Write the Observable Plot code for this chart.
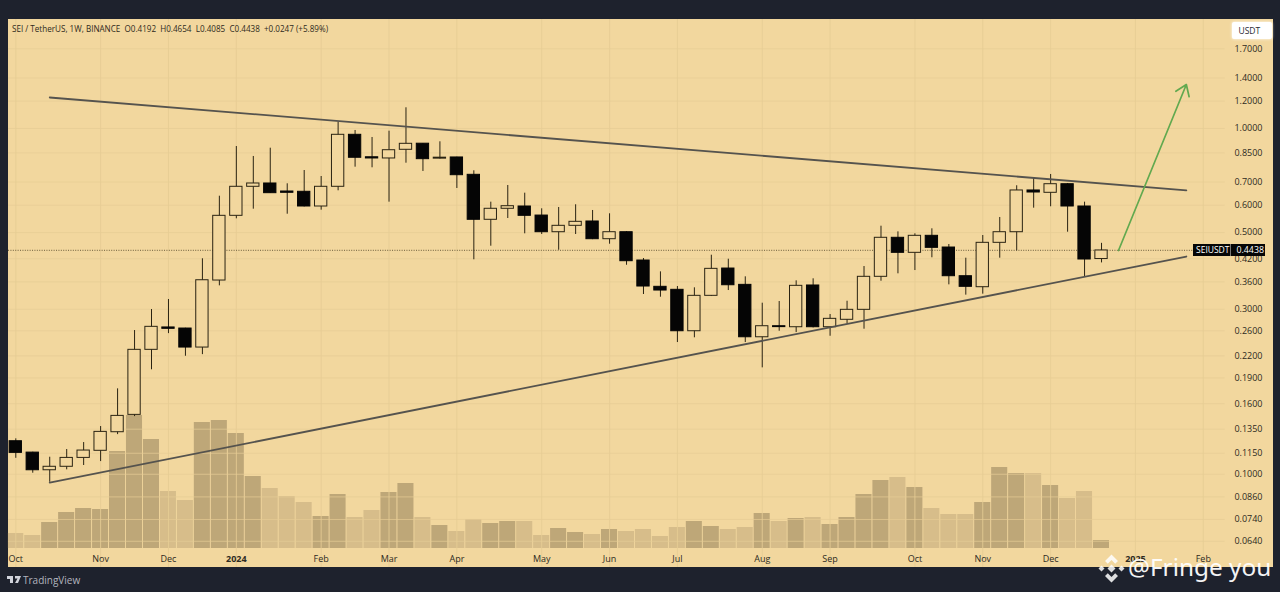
<!DOCTYPE html>
<html>
<head>
<meta charset="utf-8">
<script src="https://cdn.jsdelivr.net/npm/d3@7"></script>
<script src="https://cdn.jsdelivr.net/npm/@observablehq/plot@0.6"></script>
<style>
html,body{margin:0;padding:0;background:#1e222d;width:1280px;height:592px;overflow:hidden}
#panel{position:absolute;left:7.5px;top:19px;width:1265px;height:548px;background:#f2d79e;}
#charts svg{position:absolute;left:0;top:0;background:transparent!important}
.t{position:absolute;white-space:pre;font-family:"Open Sans",sans-serif;line-height:1}
</style>
</head>
<body>
<div id="panel"></div>
<div id="charts"></div>
<div class="t" style="left:1232px;top:22px;width:40px;height:17px;background:#fff;border-radius:2px;box-shadow:0 0 3px #fff"></div>
<div class="t" style="left:1238.5px;top:27px;font-size:8.5px;color:#2a2a33">USDT</div>
<div class="t" style="left:12px;top:25px;font-size:8.1px;color:#2e2a20">SEI / TetherUS, 1W, BINANCE  O0.4192  H0.4654  L0.4085  C0.4438  +0.0247 (+5.89%)</div>
<div class="t" style="left:1193px;top:244px;width:72px;height:11.5px;background:#060606"></div>
<div class="t" style="left:1196px;top:245.5px;font-size:8.5px;color:#fff">SEIUSDT</div>
<div class="t" style="left:1230px;top:244px;width:1px;height:11.5px;background:#777"></div>
<div class="t" style="left:1236.5px;top:245.5px;font-size:8.8px;color:#fff">0.4438</div>
<svg style="position:absolute;left:7px;top:575px" width="15" height="10" viewBox="0 0 15 10"><path d="M0 1H6V8H3V4H0Z M8 1H14L11 8H8L10.5 3.5H8Z" fill="#d1d4dc"/></svg>
<div class="t" style="left:23px;top:575px;font-size:10px;color:#b2b5be">TradingView</div>
<svg style="position:absolute;left:1097px;top:554px" width="29" height="29" viewBox="0 0 29 29"><g fill="#fff" fill-opacity=".85"><path d="M14.5 0.5L21 7L18.2 9.8L14.5 6.1L10.8 9.8L8 7Z"/><path d="M4.5 11.5L7.5 14.5L4.5 17.5L1.5 14.5Z"/><path d="M24.5 11.5L27.5 14.5L24.5 17.5L21.5 14.5Z"/><path d="M14.5 10.5L18.5 14.5L14.5 18.5L10.5 14.5Z"/><path d="M14.5 28.5L8 22L10.8 19.2L14.5 22.9L18.2 19.2L21 22Z"/></g></svg>
<div class="t" style="left:1128px;top:555px;font-family:'Noto Sans',sans-serif;font-size:24.4px;color:#fff;opacity:.95">@Fringe you</div>
<script>
const open = [.1246,.1155,.1027,.1051,.1115,.1169,.1323,.1485,.2290,.2658,.2639,.2325,.3633,.5590,.6782,.6933,.6573,.6560,.5948,.6782,.9588,.8256,.8190,.8677,.9036,.8180,.8245,.7345,.5444,.5858,.5948,.5600,.5012,.5230,.5383,.4784,.5012,.4151,.3484,.3415,.2592,.3281,.3935,.3530,.2490,.2680,.2662,.3515,.2662,.2797,.2989,.3724,.4829,.4369,.4893,.4526,.3739,.3475,.4670,.5012,.6618,.6516,.6900,.5948,.4192];
const high = [.1266,.1158,.1120,.1179,.1235,.1374,.1766,.2604,.2995,.3202,.2644,.4199,.6370,.8868,.8299,.8770,.6919,.7559,.7263,1.0429,.9868,.9418,.9822,1.1478,.9048,.9151,.8260,.7544,.6122,.6841,.6500,.5858,.5909,.6017,.5792,.5666,.5030,.4207,.3849,.3491,.3461,.4300,.4187,.3724,.3124,.3159,.3626,.3675,.2897,.3165,.3988,.5217,.5024,.4959,.5127,.4618,.4216,.4903,.5528,.6828,.7168,.7362,.6933,.6122,.4654];
const low = [.1112,.1007,.0948,.1030,.1060,.1088,.1302,.1468,.2005,.2551,.2194,.2218,.3507,.5480,.5843,.6490,.5650,.5930,.5804,.6604,.7728,.7697,.6122,.7936,.7510,.8152,.6706,.4171,.4566,.5491,.4959,.4936,.4445,.4936,.4770,.4627,.4022,.3310,.3251,.2404,.2481,.3266,.3399,.2404,.2031,.2592,.2569,.2650,.2507,.2723,.2627,.3616,.3799,.3883,.4227,.3530,.3296,.3318,.4216,.4428,.5882,.5937,.5012,.3714,.4085];
const close = [.1153,.1027,.1051,.1115,.1171,.1326,.1475,.2290,.2669,.2634,.2325,.3640,.5590,.6782,.6933,.6500,.6516,.5948,.6782,.9588,.8228,.8190,.8653,.9030,.8152,.8233,.7327,.5444,.5858,.5960,.5590,.5012,.5230,.5371,.4784,.5012,.4132,.3491,.3399,.2592,.3281,.3927,.3521,.2490,.2680,.2664,.3507,.2662,.2815,.2989,.3724,.4829,.4369,.4893,.4517,.3739,.3484,.4670,.5012,.6618,.6529,.6900,.5948,.4179,.4438];
const volume = [15,13,26,36,40,39,97,133,109,57,48,126,128,115,72,60,52,46,32,54,31,38,56,65,31,23,17,29,25,27,27,13,20,16,14,19,17,19,12,21,27,22,19,21,35,27,30,31,24,31,54,68,71,61,40,34,34,46,81,75,75,63,50,57,8];
const priceTicks = [1.7,1.4,1.2,1.0,.85,.7,.6,.5,.42,.36,.3,.26,.22,.19,.16,.135,.115,.1,.086,.074,.064];
const monthLabels = ["Oct","Nov","Dec","2024","Feb","Mar","Apr","May","Jun","Jul","Aug","Sep","Oct","Nov","Dec","2025","Feb"];
const monthDates = ["2023-10-02","2023-11-06","2023-12-04","2024-01-01","2024-02-05","2024-03-04","2024-04-01","2024-05-06","2024-06-03","2024-07-01","2024-08-05","2024-09-02","2024-10-07","2024-11-04","2024-12-02","2025-01-06","2025-02-03"];
const upperTrend = [["2023-10-16",1.229],["2025-01-27",.662]];
const lowerTrend = [["2023-10-16",.0946],["2025-01-27",.4263]];
const targetArrow = [["2024-12-30",.4437,"2025-01-27",1.34]];
const lastPrice = .4438;

const firstWeek = new Date("2023-10-02");
const bars = open.map((o,i)=>({date:d3.utcDay.offset(firstWeek,7*i),open:o,high:high[i],low:low[i],close:close[i],volume:volume[i],up:close[i]>=o}));
const months = monthLabels.map((label,i)=>({label,date:new Date(monthDates[i]),bold:/^\d/.test(label)}));
const xDomain = [new Date("2023-09-25T16:30Z"),new Date("2025-03-06T20:24Z")];
const shared = {width:1280,height:592,marginTop:19,marginBottom:25,marginLeft:8,marginRight:8};
const xScale = {type:"utc",domain:xDomain,range:[0,1280],axis:null};
const off = (d,h)=>d3.utcHour.offset(d,h);
const gridStart = new Date("2023-09-29T00:00Z"), gridEnd = new Date("2025-02-12T00:00Z"), lineEnd = new Date("2025-01-30T00:00Z");
const gridColor = "#e6cc94";

const volumePlot = Plot.plot({...shared,x:xScale,y:{type:"linear",domain:[0,548],range:[548,0],axis:null},
  marks:[
    Plot.rect(bars.filter(d=>d.up),{x1:d=>off(d.date,-80),x2:d=>off(d.date,79),y1:0,y2:"volume",fill:"#786446",fillOpacity:.42}),
    Plot.rect(bars.filter(d=>!d.up),{x1:d=>off(d.date,-80),x2:d=>off(d.date,79),y1:0,y2:"volume",fill:"#786446",fillOpacity:.22})
  ]});

const wick = "#2a2312";
const pricePlot = Plot.plot({...shared,x:xScale,y:{type:"log",domain:[.0455,2.345],range:[592,0],axis:null},
  marks:[
    Plot.ruleY(priceTicks,{x1:gridStart,x2:gridEnd,stroke:gridColor,strokeWidth:1,strokeOpacity:.7}),
    Plot.ruleX(months,{x:"date",stroke:gridColor,strokeWidth:1,strokeOpacity:.85}),
    Plot.ruleY([lastPrice],{x1:gridStart,x2:lineEnd,stroke:"#85744e",strokeWidth:1.2,strokeDasharray:"1 1.4"}),
    Plot.ruleX(bars,{x:"date",y1:"low",y2:"high",stroke:wick,strokeWidth:1}),
    Plot.rect(bars.filter(d=>d.up),{x1:d=>off(d.date,-61),x2:d=>off(d.date,61),y1:"open",y2:"close",fill:"#f2d79e",stroke:wick,strokeWidth:1}),
    Plot.rect(bars.filter(d=>!d.up),{x1:d=>off(d.date,-61),x2:d=>off(d.date,61),y1:"open",y2:"close",fill:"#050505",stroke:"#050505",strokeWidth:1}),
    Plot.line(upperTrend,{x:d=>new Date(d[0]),y:d=>d[1],stroke:"#55534e",strokeWidth:1.8}),
    Plot.line(lowerTrend,{x:d=>new Date(d[0]),y:d=>d[1],stroke:"#55534e",strokeWidth:1.8}),
    Plot.arrow(targetArrow,{x1:d=>new Date(d[0]),y1:d=>d[1],x2:d=>new Date(d[2]),y2:d=>d[3],bend:0,stroke:"#62a94f",strokeWidth:1.7,headLength:11,headAngle:70}),
    Plot.text(priceTicks,{y:d=>d,text:d=>d.toFixed(4),frameAnchor:"right",dx:-10,textAnchor:"end",fontFamily:"Open Sans",fontSize:9,fill:"#2d2a22"}),
    Plot.text(months.filter(d=>!d.bold),{x:"date",text:"label",frameAnchor:"bottom",dy:-6,fontFamily:"Open Sans",fontSize:9,fill:"#2d2a22"}),
    Plot.text(months.filter(d=>d.bold),{x:"date",text:"label",frameAnchor:"bottom",dy:-6,fontFamily:"Open Sans",fontSize:9,fontWeight:"bold",fill:"#2d2a22"})
  ]});

document.getElementById("charts").append(volumePlot,pricePlot);
</script>
</body>
</html>
